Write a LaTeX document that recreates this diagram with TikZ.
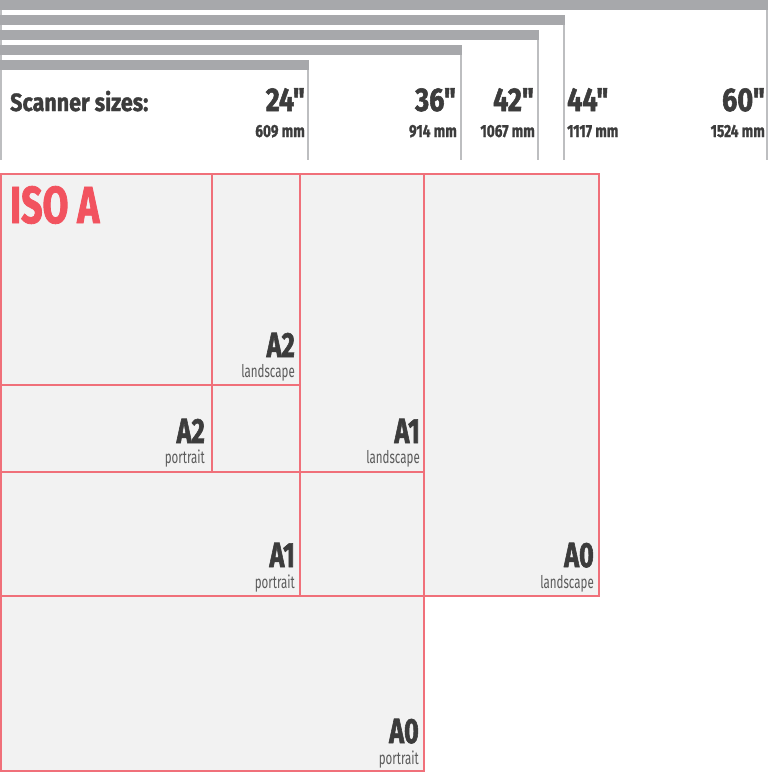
\documentclass[tikz,border=0pt]{standalone}
\usepackage{fontspec}
\newfontfamily\fbig[FakeStretch=0.72, BoldFeatures={FakeBold=1.6}]{Fira Sans}
\newfontfamily\finch[FakeStretch=0.82, BoldFeatures={FakeBold=1.6}]{Fira Sans}
\newfontfamily\fmm[FakeStretch=0.78, BoldFeatures={FakeBold=1.2}]{Fira Sans}
\newfontfamily\fscan[FakeStretch=0.86, BoldFeatures={FakeBold=1.4}]{Fira Sans}
\newfontfamily\condl[FakeStretch=0.66]{Fira Sans}
\definecolor{barg}{HTML}{A7A8AB}
\definecolor{sideg}{HTML}{BDBEC0}
\definecolor{redl}{HTML}{F0707A}
\definecolor{isored}{HTML}{F2535F}
\definecolor{paper}{HTML}{F2F2F2}
\definecolor{ink}{HTML}{3C3C3C}
\definecolor{subink}{HTML}{5A5A5A}
\tikzset{
  bar/.style={fill=barg},
  side/.style={draw=sideg, line width=2pt},
  sheet/.style={draw=redl, line width=1.8pt},
  inch/.style={inner sep=0pt, text=ink, font=\finch\bfseries\fontsize{33}{33}\selectfont},
  mm/.style={inner sep=0pt, text=ink, font=\fmm\bfseries\fontsize{17.5}{17.5}\selectfont},
  big/.style={inner sep=0pt, text=ink, font=\fbig\bfseries\fontsize{35}{35}\selectfont, anchor=base east},
  sub/.style={inner sep=0pt, text=subink, font=\condl\fontsize{17.5}{17.5}\selectfont, anchor=base east}
}
\begin{document}
\begin{tikzpicture}[x=1pt,y=-1pt]
\useasboundingbox (0,0) rectangle (768,772);
% scanner outlines
\draw[side] (1,0) -- (1,160);
\draw[side] (767,0) -- (767,160);
\draw[side] (564,15) -- (564,160);
\draw[side] (538,30) -- (538,160);
\draw[side] (461,45) -- (461,160);
\draw[side] (308,60) -- (308,160);
\fill[bar] (0,0) rectangle (768,9.8);
\fill[bar] (0,15) rectangle (565,25.2);
\fill[bar] (0,30) rectangle (539,40.2);
\fill[bar] (0,45) rectangle (462,55.2);
\fill[bar] (0,60.3) rectangle (309,70.3);
% scanner labels
\node[inner sep=0pt, text=ink, font=\fscan\bfseries\fontsize{25}{25}\selectfont, anchor=base west] (ss) at (10,111) {Scanner sizes:};
\node[inch, anchor=base east] (s24) at (305,111) {24"};
\node[mm, anchor=base east] (m24) at (305,137) {609 mm};
\node[inch, anchor=base east] (s36) at (456,111) {36"};
\node[mm, anchor=base east] (m36) at (457,137) {914 mm};
\node[inch, anchor=base east] (s42) at (534,111) {42"};
\node[mm, anchor=base east] (m42) at (535,137) {1067 mm};
\node[inch, anchor=base west] (s44) at (567,111) {44"};
\node[mm, anchor=base west] (m44) at (567,137) {1117 mm};
\node[inch, anchor=base east] (s60) at (765,111) {60"};
\node[mm, anchor=base east] (m60) at (765,137) {1524 mm};
% ISO A sheets
\fill[paper] (0,174) -- (599,174) -- (599,596) -- (424,596) -- (424,771) -- (0,771) -- cycle;
\draw[sheet] (1,174) rectangle (424,771);   % A0 portrait
\draw[sheet] (1,174) rectangle (599,596);   % A0 landscape
\draw[sheet] (1,174) rectangle (300,596);   % A1 portrait
\draw[sheet] (1,174) rectangle (424,472);   % A1 landscape
\draw[sheet] (1,174) rectangle (212,472);   % A2 portrait
\draw[sheet] (1,174) rectangle (300,385);   % A2 landscape
\node[inner sep=0pt, text=isored, font=\fbig\bfseries\fontsize{52}{52}\selectfont, anchor=base west] (iso) at (10,223) {ISO A};
\node[big] (a2l) at (295,357) {A2};
\node[sub] (a2ls) at (295,377) {landscape};
\node[big] (a2p) at (205,443) {A2};
\node[sub] (a2ps) at (205,463) {portrait};
\node[big] (a1l) at (420,443) {A1};
\node[sub] (a1ls) at (420,463) {landscape};
\node[big] (a1p) at (295,567) {A1};
\node[sub] (a1ps) at (295,588) {portrait};
\node[big] (a0l) at (594,567) {A0};
\node[sub] (a0ls) at (594,588) {landscape};
\node[big] (a0p) at (419,743) {A0};
\node[sub] (a0ps) at (419,764) {portrait};
\end{tikzpicture}
\end{document}
